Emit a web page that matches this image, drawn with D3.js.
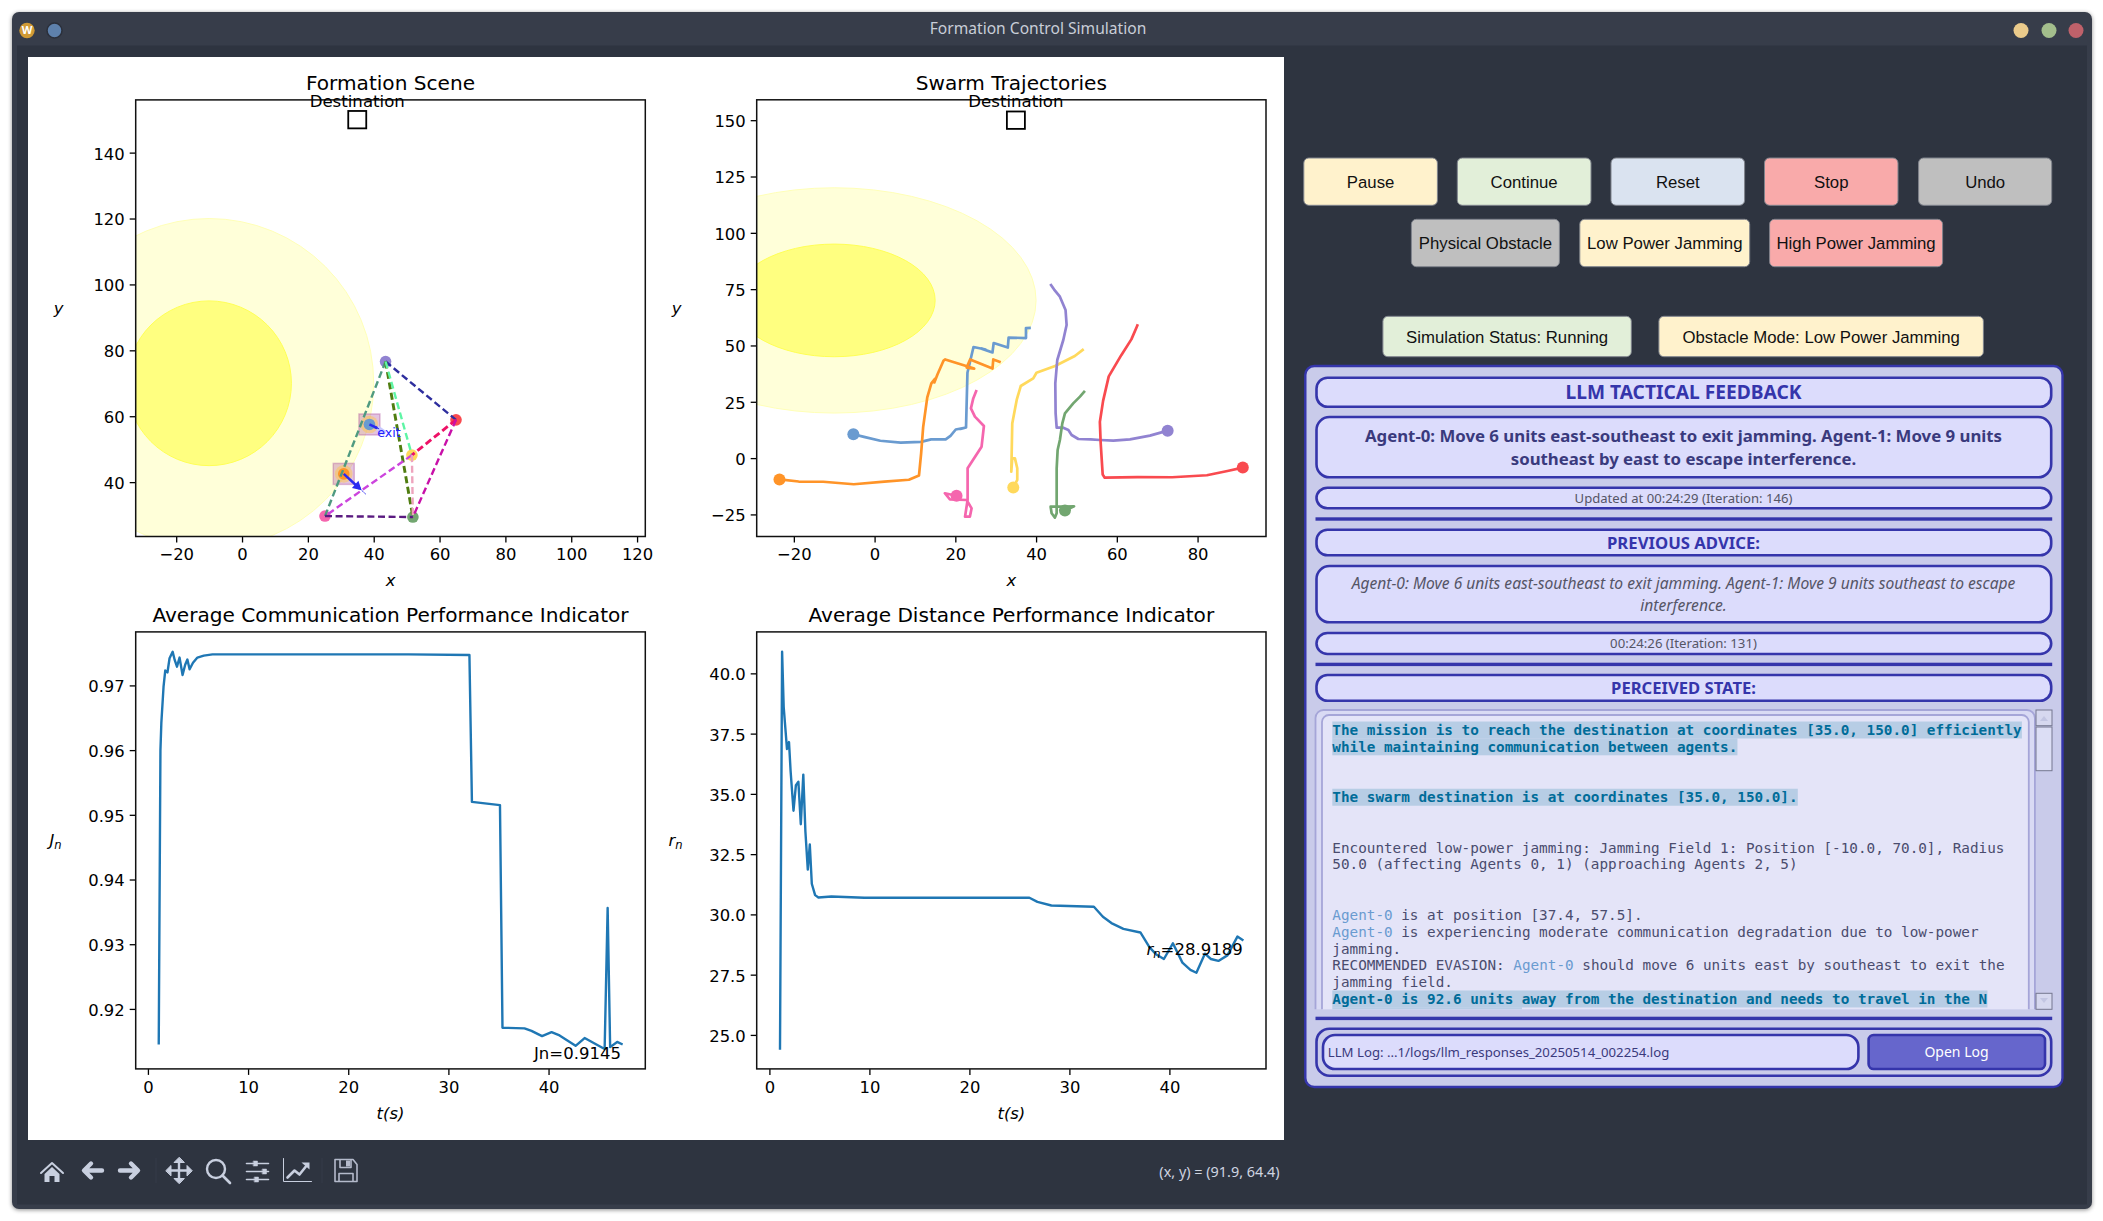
<!DOCTYPE html>
<html>
<head>
<meta charset="utf-8">
<script src="https://d3js.org/d3.v7.min.js"></script>
<style>
  html, body { margin: 0; padding: 0; background: #fff; }
  svg { display: block; }
  .plot text { font-family: "DejaVu Sans", sans-serif; fill: #000; }
  .axis path, .axis line { stroke: #000; stroke-width: 1.3; }
  .axis text { font-size: 16.4px; }
</style>
</head>
<body>
<script>
// ---------- chart values ----------
const agentColors = ["#6a9bd0", "#ff9428", "#ffd95c", "#9183d1", "#72a670", "#f566ae", "#f94a4f"];

// current agent positions (Formation Scene)
const agentX = [38.7, 30.9, 51.6, 43.6, 51.9, 25.2, 65.0];
const agentY = [57.5, 42.5, 48.2, 76.6, 29.4, 29.7, 58.9];

// communication links between agents
const linkFrom = [3, 3, 3, 3, 6, 2, 2, 6, 5];
const linkTo = [6, 5, 4, 2, 2, 5, 4, 4, 4];
const linkColors = ["#2e2e9e", "#4f9a80", "#4f7d10", "#5ef5a5", "#ee1166", "#cc44dd", "#eea4bd", "#c810a8", "#5a1a80"];

const jammedAgents = [0, 1];
const evasionEndX = [41.1, 35.8];
const evasionEndY = [56.4, 38.0];

const destination = [35, 150];
const jammingCenter = [-10, 70];
const jammingRadii = [50, 25];

// swarm trajectories, one x and one y list per agent
const traj0X = [-5.26, -2.63, 1.42, 6.47, 11.5, 14.0, 17.6, 18.8, 20.1, 22.65, 21.3, 22.65, 23.0, 24.5, 27.5, 26.5, 29.2, 29.5, 33, 33.2, 37.5, 37.5, 38.7];
const traj0Y = [10.6, 9.4, 7.7, 6.9, 7.2, 8.3, 8.3, 9.9, 12.7, 13.6, 13.0, 13.6, 37.9, 49.3, 48.2, 48.6, 46.9, 51.1, 49.1, 53.5, 53.3, 57.7, 57.8];
const traj1X = [-23.56, -18.8, -12.74, -5.16, 2.43, 8.5, 11.0, 11.53, 12.03, 13.05, 14.06, 15.0, 14.8, 15.57, 17.09, 17.5, 24.68, 22.8, 23.66, 29.2, 29.4, 31.25];
const traj1Y = [-9.45, -10.4, -10.5, -11.6, -10.4, -9.6, -7.7, 2.07, 13.75, 26.98, 33.2, 35.3, 33.6, 37.1, 43.3, 43.8, 39.75, 40.2, 43.8, 39.75, 43.8, 42.55];
const traj2X = [34.35, 35.34, 35.34, 34.76, 34.1, 33.86, 33.94, 34.1, 35.2, 36.2, 39.3, 40.1, 44.7, 49.6, 51.8];
const traj2Y = [-13.1, -9.7, -4.5, -0.1, -0.1, -6.0, 0.64, 15.4, 25.8, 32.0, 35.4, 37.9, 40.9, 45.3, 48.4];
const traj3X = [72.59, 68.2, 63.26, 59.13, 55.8, 53.5, 50.46, 48.8, 48.0, 46.74, 45.1, 44.84, 44.76, 45.25, 46.74, 47.56, 47.3, 45.9, 44.43, 43.52];
const traj3Y = [12.18, 9.96, 8.33, 7.74, 8.04, 8.33, 8.48, 10.25, 12.5, 13.5, 13.5, 19.87, 33.2, 43.55, 52.43, 59.1, 65.75, 71.66, 74.92, 77.3];
const traj4X = [47.15, 49.4, 46.74, 43.6, 43.85, 44.67, 45.1, 45.1, 45.34, 45.9, 46.5, 47.15, 49.2, 50.87, 52.1];
const traj4Y = [-23.3, -21.4, -21.56, -21.56, -24.5, -26.4, -24.5, -4.54, 3.6, 8.04, 15.4, 19.87, 24.3, 27.3, 29.8];
const traj5X = [20.3, 17.4, 18.66, 22.8, 24.03, 23.6, 22.4, 23.04, 23.04, 26.5, 27.08, 24.85, 23.86, 24.44, 25.27];
const traj5Y = [-16.7, -15.6, -18.3, -18.6, -22.3, -26, -26, -18.6, -4.54, 5.08, 14.25, 18.4, 22.1, 26.5, 30.2];
const traj6X = [91.2, 87.4, 82.3, 73.7, 65.1, 57.0, 56.5, 56, 55.8, 56.6, 58, 61.1, 63.6, 64.9, 65.2];
const traj6Y = [-4.2, -5.7, -7.6, -8.5, -8.4, -8.7, -7.3, 6.7, 16.1, 25.4, 36.3, 45.7, 52.7, 58.1, 59.4];
const trajX = [traj0X, traj1X, traj2X, traj3X, traj4X, traj5X, traj6X];
const trajY = [traj0Y, traj1Y, traj2Y, traj3Y, traj4Y, traj5Y, traj6Y];

// performance indicators
const commT = [1.08, 1.25, 1.34, 1.56, 1.73, 1.95, 2.16, 2.47, 2.68, 2.9, 3.16, 3.46, 3.72, 3.94, 4.16, 4.5, 4.94, 5.58, 6.45, 9, 26, 32.1, 32.35, 35.15, 35.4, 37.6, 38.3, 39.35, 40.3, 41.1, 42.7, 43.6, 45.6, 45.9, 46.15, 46.85, 47.4];
const commJ = [0.9145, 0.96, 0.9642, 0.9698, 0.9723, 0.972, 0.9742, 0.9752, 0.9739, 0.9729, 0.9743, 0.9716, 0.9732, 0.974, 0.9725, 0.9735, 0.9743, 0.9746, 0.9748, 0.9748, 0.9748, 0.9747, 0.952, 0.9515, 0.9171, 0.917, 0.9166, 0.9158, 0.9164, 0.9159, 0.9143, 0.9155, 0.9138, 0.9356, 0.9141, 0.9149, 0.9145];
const distT = [1.06, 1.27, 1.43, 1.76, 1.96, 2.12, 2.41, 2.65, 2.9, 3.14, 3.39, 3.6, 3.84, 4.04, 4.24, 4.57, 4.9, 6.2, 9.5, 26, 26.8, 28.2, 32.45, 33.35, 34.2, 35.4, 37.1, 38.0, 38.65, 39.45, 40.35, 41.3, 42.1, 42.7, 43.55, 44.15, 44.9, 45.8, 46.8, 47.4];
const distR = [24.38, 40.9, 38.6, 36.86, 37.15, 35.95, 34.3, 35.36, 35.5, 33.74, 35.8, 33.44, 31.86, 32.9, 31.27, 30.8, 30.7, 30.74, 30.69, 30.69, 30.52, 30.37, 30.32, 29.9, 29.64, 29.4, 29.25, 28.64, 28.35, 28.15, 28.8, 28.0, 27.7, 27.58, 28.37, 28.15, 28.07, 28.3, 29.08, 28.92];

// tick labels
const sceneXTicks = [-20, 0, 20, 40, 60, 80, 100, 120];
const sceneYTicks = [40, 60, 80, 100, 120, 140];
const trajXTicks = [-20, 0, 20, 40, 60, 80];
const trajYTicks = [-25, 0, 25, 50, 75, 100, 125, 150];
const timeTicks = [0, 10, 20, 30, 40];
const commTicks = [0.92, 0.93, 0.94, 0.95, 0.96, 0.97];
const distTicks = [25, 27.5, 30, 32.5, 35, 37.5, 40];

// control panel text
const controlLabels = ["Pause", "Continue", "Reset", "Stop", "Undo"];
const obstacleLabels = ["Physical Obstacle", "Low Power Jamming", "High Power Jamming"];
const statusLabels = ["Simulation Status: Running", "Obstacle Mode: Low Power Jamming"];
const adviceLines = ["Agent-0: Move 6 units east-southeast to exit jamming. Agent-1: Move 9 units", "southeast by east to escape interference."];
const previousLines = ["Agent-0: Move 6 units east-southeast to exit jamming. Agent-1: Move 9 units southeast to escape", "interference."];
const stateLines = [
  [1, [["hl", "The mission is to reach the destination at coordinates [35.0, 150.0] efficiently"]]],
  [2, [["hl", "while maintaining communication between agents."]]],
  [5, [["hl", "The swarm destination is at coordinates [35.0, 150.0]."]]],
  [8, [["", "Encountered low-power jamming: Jamming Field 1: Position [-10.0, 70.0], Radius"]]],
  [9, [["", "50.0 (affecting Agents 0, 1) (approaching Agents 2, 5)"]]],
  [12, [["ag", "Agent-0"], ["", " is at position [37.4, 57.5]."]]],
  [13, [["ag", "Agent-0"], ["", " is experiencing moderate communication degradation due to low-power"]]],
  [14, [["", "jamming."]]],
  [15, [["", "RECOMMENDED EVASION: "], ["ag", "Agent-0"], ["", " should move 6 units east by southeast to exit the"]]],
  [16, [["", "jamming field."]]],
  [17, [["hl", "Agent-0 is 92.6 units away from the destination and needs to travel in the N"]]],
  [18, [["hl", "                      "]]]
];

// ---------- page ----------
const svg = d3.select("body").append("svg").attr("width", 2103).attr("height", 1221);
const defs = svg.append("defs");

svg.append("rect").attr("x", 12).attr("y", 12).attr("width", 2080).attr("height", 1197).attr("rx", 7)
    .attr("fill", "#373d4a").style("filter", "drop-shadow(0 1px 2px rgba(0,0,0,.45))");
svg.append("rect").attr("x", 17).attr("y", 45.5).attr("width", 2070).attr("height", 1159).attr("fill", "#2e3440");
svg.append("rect").attr("x", 28).attr("y", 57).attr("width", 1256).attr("height", 1083).attr("fill", "#fff");

// title bar
function uiText(parent, x, y, str, size, color, opts) {
  const o = opts || {};
  return parent.append("text").attr("x", x).attr("y", y).attr("dy", ".35em")
      .attr("text-anchor", o.anchor || "middle")
      .attr("font-family", o.family || "'Noto Sans', sans-serif")
      .attr("font-size", size).attr("font-weight", o.weight || 400)
      .attr("font-style", o.style || "normal").attr("fill", color).text(str);
}
uiText(svg, 1038, 29, "Formation Control Simulation", 15.6, "#c9ced8");
svg.append("circle").attr("cx", 27).attr("cy", 30.5).attr("r", 7.7).attr("fill", "#d09a35");
uiText(svg, 27, 30.5, "W", 11, "#fff", {weight: 700});
svg.append("circle").attr("cx", 54.5).attr("cy", 30.5).attr("r", 7.5).attr("fill", "#5e81ac").attr("stroke", "#2b303b").attr("stroke-width", 1.5);
[[2021, "#ebcb8b"], [2049, "#a3be8c"], [2076, "#bf616a"]].forEach(b => {
  svg.append("circle").attr("cx", b[0]).attr("cy", 30.5).attr("r", 7.5).attr("fill", b[1]);
});

// ---------- matplotlib style axes ----------
let clipId = 0;
function makeAxes(cfg) {
  const g = svg.append("g").attr("class", "plot");
  const x = d3.scaleLinear().domain(cfg.xDomain).range([cfg.left, cfg.right]);
  const y = d3.scaleLinear().domain(cfg.yDomain).range([cfg.bottom, cfg.top]);
  const id = "clip" + (clipId++);
  defs.append("clipPath").attr("id", id).append("rect")
      .attr("x", cfg.left).attr("y", cfg.top)
      .attr("width", cfg.right - cfg.left).attr("height", cfg.bottom - cfg.top);
  const inner = g.append("g").attr("clip-path", `url(#${id})`);

  g.append("g").attr("class", "axis").attr("transform", `translate(0,${cfg.bottom})`)
      .call(d3.axisBottom(x).tickValues(cfg.xTicks).tickFormat(d3.format("d")).tickSize(6).tickPadding(6.3))
      .call(a => a.select(".domain").remove());
  g.append("g").attr("class", "axis").attr("transform", `translate(${cfg.left},0)`)
      .call(d3.axisLeft(y).tickValues(cfg.yTicks).tickFormat(d3.format(cfg.yFormat)).tickSize(6).tickPadding(5))
      .call(a => a.select(".domain").remove())
      .call(a => a.selectAll("text").attr("dy", ".39em"));
  g.selectAll(".axis text").attr("font-family", "'DejaVu Sans', sans-serif").attr("fill", "#000");

  const cx = (cfg.left + cfg.right) / 2;
  g.append("text").attr("x", cx).attr("y", cfg.titleY).attr("text-anchor", "middle")
      .attr("font-size", 20.1).text(cfg.title);
  g.append("text").attr("x", cx).attr("y", cfg.xLabelY).attr("text-anchor", "middle")
      .attr("font-size", 16.4).attr("font-style", "italic").html(cfg.xLabel);
  const yl = g.append("text").attr("x", cfg.yLabelX).attr("y", cfg.yLabelY).attr("text-anchor", "middle")
      .attr("font-size", 16.4).attr("font-style", "italic").text(cfg.yLabel);
  if (cfg.yLabelSub) yl.append("tspan").attr("font-size", 11.5).attr("dy", 3).text(cfg.yLabelSub);

  const frame = () => g.append("rect").attr("x", cfg.left).attr("y", cfg.top)
      .attr("width", cfg.right - cfg.left).attr("height", cfg.bottom - cfg.top)
      .attr("fill", "none").attr("stroke", "#111").attr("stroke-width", 1.5);
  return {g, inner, x, y, frame};
}

function drawField(ax) {
  const rx = r => ax.x(jammingCenter[0] + r) - ax.x(jammingCenter[0]);
  const ry = r => ax.y(jammingCenter[1]) - ax.y(jammingCenter[1] + r);
  ax.inner.selectAll(".field").data(jammingRadii).join("ellipse")
      .attr("class", "field")
      .attr("cx", ax.x(jammingCenter[0])).attr("cy", ax.y(jammingCenter[1]))
      .attr("rx", rx).attr("ry", ry)
      .attr("fill", (d, i) => i === 0 ? "#ffffd9" : "#ffff80")
      .attr("stroke", (d, i) => i === 0 ? "#ffffb8" : "#ffff55").attr("stroke-width", 1);
}

function drawDestination(ax) {
  ax.g.append("rect")
      .attr("x", ax.x(destination[0]) - 9).attr("y", ax.y(destination[1]) - 8.7)
      .attr("width", 18).attr("height", 17.4)
      .attr("fill", "#fff").attr("stroke", "#000").attr("stroke-width", 1.8);
  ax.g.append("text").attr("x", ax.x(destination[0])).attr("y", ax.y(destination[1]) - 13)
      .attr("text-anchor", "middle").attr("font-size", 16.6).text("Destination");
}

// ---------- Formation Scene ----------
const scene = makeAxes({
  left: 135.7, right: 645.3, top: 99.9, bottom: 536.5,
  xDomain: [-32.3, 122.5], yDomain: [23.5, 156],
  xTicks: sceneXTicks, yTicks: sceneYTicks, yFormat: "d",
  title: "Formation Scene", titleY: 90, xLabel: "x", xLabelY: 585.5, yLabel: "y", yLabelX: 58.5, yLabelY: 314
});
drawField(scene);
scene.frame();

// jamming markers under the agents
scene.inner.selectAll(".jam").data(jammedAgents).join("rect")
    .attr("x", d => scene.x(agentX[d]) - 10.5).attr("y", d => scene.y(agentY[d]) - 10.5)
    .attr("width", 21).attr("height", 21)
    .attr("fill", "#a8489a").attr("fill-opacity", .32)
    .attr("stroke", "#a8489a").attr("stroke-opacity", .35).attr("stroke-width", 1.5);

// pale wedge of the exit arrow stays under the agent marker
scene.inner.append("line")
    .attr("x1", scene.x(agentX[0]) + 6).attr("y1", scene.y(agentY[0]) + 2)
    .attr("x2", scene.x(evasionEndX[0]) + 6).attr("y2", scene.y(evasionEndY[0]) + 4)
    .attr("stroke", "#c7c8ff").attr("stroke-width", 5).attr("stroke-linecap", "round");

scene.inner.selectAll(".halo").data(jammedAgents).join("circle")
    .attr("cx", d => scene.x(agentX[d])).attr("cy", d => scene.y(agentY[d])).attr("r", 8.8)
    .attr("fill", "#ffc84a").attr("fill-opacity", .5);

scene.inner.selectAll(".agent").data(agentX).join("circle")
    .attr("cx", d => scene.x(d)).attr("cy", (d, i) => scene.y(agentY[i])).attr("r", 5.8)
    .attr("fill", (d, i) => agentColors[i]);

scene.inner.selectAll(".link").data(linkFrom).join("line")
    .attr("x1", d => scene.x(agentX[d])).attr("y1", d => scene.y(agentY[d]))
    .attr("x2", (d, i) => scene.x(agentX[linkTo[i]])).attr("y2", (d, i) => scene.y(agentY[linkTo[i]]))
    .attr("stroke", (d, i) => linkColors[i]).attr("stroke-width", (d, i) => i === 2 || i === 4 ? 2.9 : 2.4)
    .attr("stroke-dasharray", "7,3.6");

// evasion arrows
jammedAgents.forEach((a, i) => {
  const x0 = scene.x(agentX[a]), y0 = scene.y(agentY[a]);
  const x1 = scene.x(evasionEndX[i]), y1 = scene.y(evasionEndY[i]);
  const ang = Math.atan2(y1 - y0, x1 - x0);
  scene.inner.append("line").attr("x1", x0).attr("y1", y0).attr("x2", x1).attr("y2", y1)
      .attr("stroke", "#2a2af0").attr("stroke-width", 2.5);
  const s = i === 1 ? 8 : 3;
  const head = [[x1 + Math.cos(ang) * s * .3, y1 + Math.sin(ang) * s * .3],
    [x1 + Math.cos(ang + 2.5) * s, y1 + Math.sin(ang + 2.5) * s],
    [x1 + Math.cos(ang - 2.5) * s, y1 + Math.sin(ang - 2.5) * s]];
  scene.inner.append("path").attr("d", d3.line()(head) + "Z").attr("fill", "#2a2af0");
  scene.inner.append("line")
      .attr("x1", x1).attr("y1", y1)
      .attr("x2", x1 + Math.cos(ang) * s).attr("y2", y1 + Math.sin(ang) * s)
      .attr("stroke", "#2a2af0").attr("stroke-width", 1).attr("stroke-dasharray", "2,1");
});
scene.g.append("text").attr("x", scene.x(41.1)).attr("y", scene.y(53.8))
    .attr("font-size", 12.6).style("fill", "#2020ff").text("exit");
drawDestination(scene);

// ---------- Swarm Trajectories ----------
const swarm = makeAxes({
  left: 756.7, right: 1266, top: 99.8, bottom: 536.5,
  xDomain: [-29.2, 96.95], yDomain: [-34.8, 159.05],
  xTicks: trajXTicks, yTicks: trajYTicks, yFormat: "d",
  title: "Swarm Trajectories", titleY: 90, xLabel: "x", xLabelY: 585.5, yLabel: "y", yLabelX: 676.5, yLabelY: 314
});
drawField(swarm);
swarm.frame();
const trajLine = d3.line().x(d => swarm.x(d[0])).y(d => swarm.y(d[1]));
swarm.inner.selectAll(".track").data(trajX).join("path")
    .attr("class", "track")
    .attr("d", (xs, i) => trajLine(d3.zip(xs, trajY[i])))
    .attr("fill", "none").attr("stroke", (d, i) => agentColors[i])
    .attr("stroke-width", 2.7).attr("stroke-linejoin", "round");
swarm.inner.selectAll(".start").data(trajX).join("circle")
    .attr("class", "start")
    .attr("cx", xs => swarm.x(xs[0])).attr("cy", (xs, i) => swarm.y(trajY[i][0])).attr("r", 6)
    .attr("fill", (d, i) => agentColors[i]);
drawDestination(swarm);

// ---------- Performance indicators ----------
function drawSeries(ax, ts, vs) {
  ax.inner.append("path").datum(d3.zip(ts, vs))
      .attr("d", d3.line().x(d => ax.x(d[0])).y(d => ax.y(d[1])))
      .attr("fill", "none").attr("stroke", "#1f77b4").attr("stroke-width", 2.4).attr("stroke-linejoin", "round");
  ax.frame();
}
const comm = makeAxes({
  left: 135.7, right: 645.3, top: 631.9, bottom: 1068.9,
  xDomain: [-1.22, 49.66], yDomain: [0.91073, 0.97827],
  xTicks: timeTicks, yTicks: commTicks, yFormat: ".2f",
  title: "Average Communication Performance Indicator", titleY: 622,
  xLabel: "t(s)", xLabelY: 1118.5, yLabel: "J", yLabelSub: "n", yLabelX: 55.5, yLabelY: 846
});
drawSeries(comm, commT, commJ);
comm.g.append("text").attr("x", 534).attr("y", 1059).attr("font-size", 16.5).text("Jn=0.9145");

const dist = makeAxes({
  left: 756.7, right: 1266, top: 631.9, bottom: 1068.9,
  xDomain: [-1.27, 49.66], yDomain: [23.59, 41.72],
  xTicks: timeTicks, yTicks: distTicks, yFormat: ".1f",
  title: "Average Distance Performance Indicator", titleY: 622,
  xLabel: "t(s)", xLabelY: 1118.5, yLabel: "r", yLabelSub: "n", yLabelX: 675.5, yLabelY: 846
});
drawSeries(dist, distT, distR);
const rnLabel = dist.g.append("text").attr("x", 1146.5).attr("y", 955).attr("font-size", 16.5);
rnLabel.append("tspan").attr("font-style", "italic").text("r");
rnLabel.append("tspan").attr("font-style", "italic").attr("font-size", 11.5).attr("dy", 3).text("n");
rnLabel.append("tspan").attr("dy", -3).text("=28.9189");

// ---------- toolbar ----------
const tb = svg.append("g").attr("fill", "none").attr("stroke", "#c8cfdf").attr("stroke-linecap", "round").attr("stroke-linejoin", "round");
const icon = (x, y) => tb.append("g").attr("transform", `translate(${x},${y})`);
const home = icon(52, 1172);
home.append("path").attr("d", "M-11,1 L0,-9 L11,1").attr("stroke-width", 2);
home.append("path").attr("d", "M-7.5,2 L0,-5 L7.5,2 V10 H2.5 V4 H-2.5 V10 H-7.5 Z").attr("fill", "#c8cfdf").attr("stroke", "none");
const back = icon(92, 1170.5);
back.append("path").attr("d", "M10,0 H-7 M-1,-7 L-8,0 L-1,7").attr("stroke-width", 4.4);
const fwd = icon(130, 1170.5);
fwd.append("path").attr("d", "M-10,0 H7 M1,-7 L8,0 L1,7").attr("stroke-width", 4.4);
const move = icon(179, 1170.5);
move.append("path").attr("d", "M-10,0 H10 M0,-10 V10").attr("stroke-width", 2.4);
move.append("path").attr("d", "M-13,0 L-8,-5 V5 Z M13,0 L8,-5 V5 Z M0,-13 L-5,-8 H5 Z M0,13 L-5,8 H5 Z").attr("fill", "#c8cfdf").attr("stroke-width", 1);
const zoomIcon = icon(218, 1172);
zoomIcon.append("circle").attr("cx", -2).attr("cy", -3).attr("r", 9).attr("stroke-width", 2.4);
zoomIcon.append("path").attr("d", "M4.5,3.5 L12,11").attr("stroke-width", 2.6);
const sliders = icon(257.5, 1171.5);
sliders.append("path").attr("d", "M-11,-8 H11 M-11,0 H11 M-11,8 H11").attr("stroke-width", 1.6);
sliders.append("path").attr("d", "M-4,-10.5 H0 V-5.5 H-4 Z M5,-2.5 H9 V2.5 H5 Z M-3,5.5 H1 V10.5 H-3 Z").attr("fill", "#c8cfdf").attr("stroke-width", .5);
const trend = icon(297.5, 1171.5);
trend.append("path").attr("d", "M-14,-13 V10 H14").attr("stroke-width", 1);
trend.append("path").attr("d", "M-10,6 L-3,-1 L2,3 L10,-7").attr("stroke-width", 2.6);
trend.append("path").attr("d", "M4,-9 H12 V-2 Z").attr("fill", "#c8cfdf").attr("stroke", "none");
const save = icon(346, 1170.5);
save.append("path").attr("d", "M-11,-11 H7 L11,-6 V11 H-11 Z M-6,-11 V-3 H5 V-11 M-7,11 V3 H7 V11").attr("stroke-width", 1.6).attr("stroke", "#b4bacb");
save.append("rect").attr("x", 0).attr("y", -10).attr("width", 4).attr("height", 6).attr("fill", "#b4bacb").attr("stroke", "none");
[156, 322].forEach(x => svg.append("line").attr("x1", x).attr("x2", x).attr("y1", 1158).attr("y2", 1183).attr("stroke", "#353b48"));
uiText(svg, 1279.6, 1171.5, "(x, y) = (91.9, 64.4)", 14.4, "#cfd5e0", {anchor: "end"});

// ---------- buttons ----------
const buttonFill = {Pause: "#fff2cc", Continue: "#e2efd9", Reset: "#dae3f0", Stop: "#f9aaaa", Undo: "#bfbfbf",
  "Physical Obstacle": "#bfbfbf", "Low Power Jamming": "#fff2cc", "High Power Jamming": "#f9aaaa"};
const buttonEdges = [[1303.8, 1437.4], [1457.3, 1591], [1611, 1744.6], [1764.5, 1898], [1918.6, 2051.7]];
const obstacleEdges = [[1411.4, 1559.4], [1579.8, 1749.7], [1769.6, 1942.6]];
const statusEdges = [[1382.9, 1631.3], [1658.9, 1983.4]];
function button(label, edge, top, bottom, fill) {
  svg.append("rect").attr("x", edge[0]).attr("y", top).attr("width", edge[1] - edge[0]).attr("height", bottom - top)
      .attr("rx", 5).attr("fill", fill).attr("stroke", "#7f838c").attr("stroke-width", 1);
  uiText(svg, (edge[0] + edge[1]) / 2, (top + bottom) / 2 + .5, label, 16.75, "#111", {family: "'Liberation Sans', sans-serif"});
}
controlLabels.forEach((l, i) => button(l, buttonEdges[i], 158, 205.3, buttonFill[l]));
obstacleLabels.forEach((l, i) => button(l, obstacleEdges[i], 219.3, 266.7, buttonFill[l]));
button(statusLabels[0], statusEdges[0], 316.3, 356.7, "#e2efd9");
button(statusLabels[1], statusEdges[1], 316.3, 356.7, "#fff2cc");

// ---------- LLM feedback panel ----------
const navy = "#3535ab", boxFill = "#dcdcfc", panelFill = "#c9cbea";
const px0 = 1316.5, px1 = 2051.2, pcx = 1683.5;
svg.append("rect").attr("x", 1305.3).attr("y", 366).attr("width", 757.2).attr("height", 721)
    .attr("rx", 9).attr("fill", panelFill).attr("stroke", navy).attr("stroke-width", 2.4);
function box(x0, x1, top, bottom, r, fill) {
  return svg.append("rect").attr("x", x0).attr("y", top + 1).attr("width", x1 - x0).attr("height", bottom - top - 2)
      .attr("rx", r).attr("fill", fill || boxFill).attr("stroke", navy).attr("stroke-width", 2.6);
}
const rule = y => svg.append("rect").attr("x", px0 - 1).attr("y", y).attr("width", px1 - px0 + 2).attr("height", 3.4).attr("fill", navy);

box(px0, px1, 376.7, 407.7, 11);
uiText(svg, pcx, 392.5, "LLM TACTICAL FEEDBACK", 19.2, navy, {weight: 700});
box(px0, px1, 416, 478.3, 13);
adviceLines.forEach((l, i) => uiText(svg, pcx, 436 + i * 23, l, 16.8, "#3a3a7d", {weight: 700}));
box(px0, px1, 486.7, 509.3, 11);
uiText(svg, pcx, 498, "Updated at 00:24:29 (Iteration: 146)", 13.1, "#555566");
rule(517.3);

box(px0, px1, 528.7, 556.3, 11);
uiText(svg, pcx, 543, "PREVIOUS ADVICE:", 16.7, navy, {weight: 700});
box(px0, px1, 565, 623.3, 13);
previousLines.forEach((l, i) => uiText(svg, pcx, 584 + i * 22, l, 15.6, "#555566", {style: "italic"}));
box(px0, px1, 632, 655, 11);
uiText(svg, pcx, 643.5, "00:24:26 (Iteration: 131)", 13.2, "#555566");
rule(662.7);

box(px0, px1, 674, 701.7, 11);
uiText(svg, pcx, 687.7, "PERCEIVED STATE:", 16.6, navy, {weight: 700});

// scrolling log
defs.append("clipPath").attr("id", "logClip").append("rect")
    .attr("x", 1300).attr("y", 700).attr("width", 760).attr("height", 309.3);
const logG = svg.append("g").attr("clip-path", "url(#logClip)");
logG.append("rect").attr("x", 1315.5).attr("y", 710).attr("width", 719.4).attr("height", 330).attr("rx", 8)
    .attr("fill", "#d9daf4").attr("stroke", "#a5a5d8").attr("stroke-width", 1.8);
logG.append("rect").attr("x", 1322).attr("y", 715).attr("width", 706.8).attr("height", 330).attr("rx", 7)
    .attr("fill", "#e4e4f8").attr("stroke", "#a5a5d8").attr("stroke-width", 1.8);

const logLeft = 1332.3, charW = 8.62, lineH = 16.81, firstLine = 730;
stateLines.forEach(row => {
  const y = firstLine + (row[0] - 1) * lineH;
  let col = 0;
  row[1].forEach(seg => {
    if (seg[0] === "hl") {
      logG.append("rect").attr("x", logLeft + col * charW).attr("y", y - 8.5)
          .attr("width", seg[1].length * charW).attr("height", 17).attr("fill", "#b7cde5");
    }
    logG.append("text").attr("x", logLeft + col * charW).attr("y", y).attr("dy", ".35em")
        .style("white-space", "pre")
        .attr("font-family", "'DejaVu Sans Mono', monospace").attr("font-size", 14.32)
        .attr("font-weight", seg[0] === "hl" ? 700 : 400)
        .attr("fill", seg[0] === "hl" ? "#006c99" : seg[0] === "ag" ? "#6a9bd0" : "#4a4c6e")
        .text(seg[1]);
    col += seg[1].length;
  });
});

// scrollbar
const sb = (top, h, fill) => svg.append("rect").attr("x", 2036).attr("y", top).attr("width", 16).attr("height", h)
    .attr("fill", fill).attr("stroke", "#75778f").attr("stroke-width", 1);
sb(710, 15.7, "#d6d8ef");
sb(727, 43.7, "#dcdef5");
sb(993.3, 16, "#d6d8ef");
svg.append("path").attr("d", "M2040,721 L2044,716 L2048,721 Z").attr("fill", "#c2c5e2");
svg.append("path").attr("d", "M2040,998 L2044,1003 L2048,998 Z").attr("fill", "#c2c5e2");
rule(1016.7);

// log footer
box(px0, px1, 1027.7, 1076.7, 13, panelFill);
box(1323, 1858.4, 1034, 1070, 12);
uiText(svg, 1327.8, 1052.5, "LLM Log: ...1/logs/llm_responses_20250514_002254.log", 13.2, "#3a3a7d", {anchor: "start"});
box(1868.6, 2045, 1034, 1070, 5, "#6666cc");
uiText(svg, 1956.5, 1052.5, "Open Log", 14, "#fff");
</script>
</body>
</html>
